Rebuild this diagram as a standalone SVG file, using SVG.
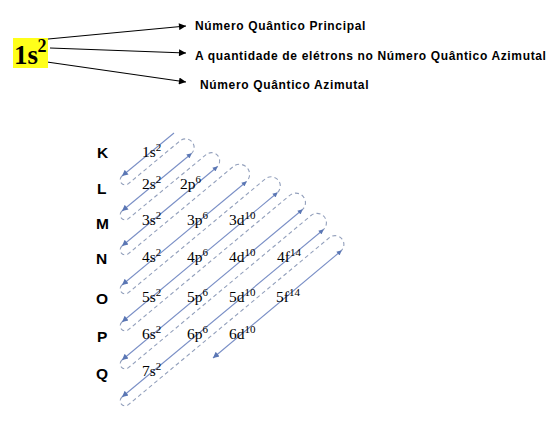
<svg xmlns="http://www.w3.org/2000/svg" width="558" height="424" viewBox="0 0 558 424">
<style>
.desc{font-family:"Liberation Sans",Arial,sans-serif;font-weight:bold;font-size:12px;letter-spacing:0.65px;fill:#000}
.shell{font-family:"Liberation Sans",Arial,sans-serif;font-weight:bold;font-size:15.5px;fill:#000}
.orb{font-family:"Liberation Serif","Times New Roman",serif;font-size:15.5px;fill:#000}
.sup{font-size:11px}
.blk{stroke:#000;stroke-width:1.2;fill:none;marker-end:url(#ahBlack)}
.diag{stroke:#7a8fc6;stroke-width:1.1;fill:none;marker-end:url(#ahBlue)}
.diag2{marker-start:url(#triBlue)}
.dash{stroke:#93a0bc;stroke-width:1.1;fill:none;stroke-dasharray:4 3}
</style>
<defs>
<marker id="ahBlack" viewBox="0 0 10 10" refX="10" refY="5" markerWidth="9" markerHeight="7" markerUnits="userSpaceOnUse" orient="auto"><path d="M0,0 L10,5 L0,10 z" fill="#000"/></marker>
<marker id="ahBlue" viewBox="0 0 10 10" refX="10" refY="5" markerWidth="8" markerHeight="6" markerUnits="userSpaceOnUse" orient="auto"><path d="M0,0 L10,5 L0,10 z" fill="#5a76b4"/></marker>
<marker id="triBlue" viewBox="0 0 10 10" refX="2" refY="5" markerWidth="6" markerHeight="5" markerUnits="userSpaceOnUse" orient="auto"><path d="M10,0 L0,5 L10,10 z" fill="#5a76b4"/></marker>
</defs>
<rect width="558" height="424" fill="#fff"/>

<g id="connectors">
<line class="blk" x1="27" y1="41" x2="186" y2="26"/>
<line class="blk" x1="50" y1="48" x2="186" y2="53"/>
<line class="blk" x1="47" y1="62" x2="186" y2="82"/>

<path class="dash" d="M122,176 A5,5 0 0 0 128.4,183.7 L180.1,140.8 A8.55,8.55 0 0 1 191,154"/>
<path class="dash" d="M122,211 A5,5 0 0 0 128.4,218.7 L206.5,154.3 A8.25,8.25 0 0 1 217,167"/>
<path class="dash" d="M122,246 A5,5 0 0 0 128.4,253.7 L233.2,166.6 A10,10 0 0 1 246,182"/>
<path class="dash" d="M122,285 A5,5 0 0 0 128.4,292.7 L265.3,178.9 A9.15,9.15 0 0 1 277,193"/>
<path class="dash" d="M122,322 A5,5 0 0 0 128.4,329.7 L289.8,195.3 A9.55,9.55 0 0 1 302,210"/>
<path class="dash" d="M122,360 A5,5 0 0 0 128.4,367.7 L311,215.5 A9.4,9.4 0 0 1 323,230"/>
<path class="dash" d="M122,397 A5,5 0 0 0 128.4,404.7 L329.7,237.4 A8.85,8.85 0 0 1 341,251"/>

<line class="diag" x1="174" y1="133" x2="122" y2="176"/>
<line class="diag diag2" x1="191" y1="154" x2="122" y2="211"/>
<line class="diag diag2" x1="217" y1="167" x2="122" y2="246"/>
<line class="diag diag2" x1="246" y1="182" x2="122" y2="285"/>
<line class="diag diag2" x1="277" y1="193" x2="122" y2="322"/>
<line class="diag diag2" x1="302" y1="210" x2="122" y2="360"/>
<line class="diag diag2" x1="323" y1="230" x2="122" y2="397"/>
<line class="diag diag2" x1="341" y1="251" x2="213" y2="358"/>
</g>

<g id="header">
<rect x="13" y="38" width="35" height="30" fill="#ffff1a"/>
<text x="14" y="64" font-family="'Liberation Serif','Times New Roman',serif" font-weight="bold" font-size="27">1s<tspan x="37.5" y="52" font-size="18">2</tspan></text>
</g>
<g id="desc-principal"><text class="desc" x="195" y="29.5">Número Quântico Principal</text></g>
<g id="desc-eletrons"><text class="desc" x="195" y="59.5">A quantidade de elétrons no Número Quântico Azimutal</text></g>
<g id="desc-azimutal"><text class="desc" x="200" y="89">Número Quântico Azimutal</text></g>

<g id="shells">
<text class="shell" x="97" y="158">K</text>
<text class="shell" x="97" y="194">L</text>
<text class="shell" x="96" y="229">M</text>
<text class="shell" x="96" y="264">N</text>
<text class="shell" x="96" y="304">O</text>
<text class="shell" x="97" y="342">P</text>
<text class="shell" x="96" y="379">Q</text>
</g>

<g id="orbitals">
<g id="row-K"><text class="orb" x="142" y="157">1s<tspan class="sup" dy="-6">2</tspan></text></g>
<g id="row-L">
<text class="orb" x="142" y="189">2s<tspan class="sup" dy="-6">2</tspan></text>
<text class="orb" x="180" y="189">2p<tspan class="sup" dy="-6">6</tspan></text>
</g>
<g id="row-M">
<text class="orb" x="142" y="225">3s<tspan class="sup" dy="-6">2</tspan></text>
<text class="orb" x="187" y="225">3p<tspan class="sup" dy="-6">6</tspan></text>
<text class="orb" x="229" y="225">3d<tspan class="sup" dy="-6">10</tspan></text>
</g>
<g id="row-N">
<text class="orb" x="142" y="262">4s<tspan class="sup" dy="-6">2</tspan></text>
<text class="orb" x="187" y="262">4p<tspan class="sup" dy="-6">6</tspan></text>
<text class="orb" x="229" y="262">4d<tspan class="sup" dy="-6">10</tspan></text>
<text class="orb" x="277" y="262">4f<tspan class="sup" dy="-6">14</tspan></text>
</g>
<g id="row-O">
<text class="orb" x="142" y="302">5s<tspan class="sup" dy="-6">2</tspan></text>
<text class="orb" x="187" y="302">5p<tspan class="sup" dy="-6">6</tspan></text>
<text class="orb" x="229" y="302">5d<tspan class="sup" dy="-6">10</tspan></text>
<text class="orb" x="276" y="302">5f<tspan class="sup" dy="-6">14</tspan></text>
</g>
<g id="row-P">
<text class="orb" x="142" y="339">6s<tspan class="sup" dy="-6">2</tspan></text>
<text class="orb" x="187" y="339">6p<tspan class="sup" dy="-6">6</tspan></text>
<text class="orb" x="229" y="339">6d<tspan class="sup" dy="-6">10</tspan></text>
</g>
<g id="row-Q"><text class="orb" x="142" y="376">7s<tspan class="sup" dy="-6">2</tspan></text></g>
</g>
</svg>
